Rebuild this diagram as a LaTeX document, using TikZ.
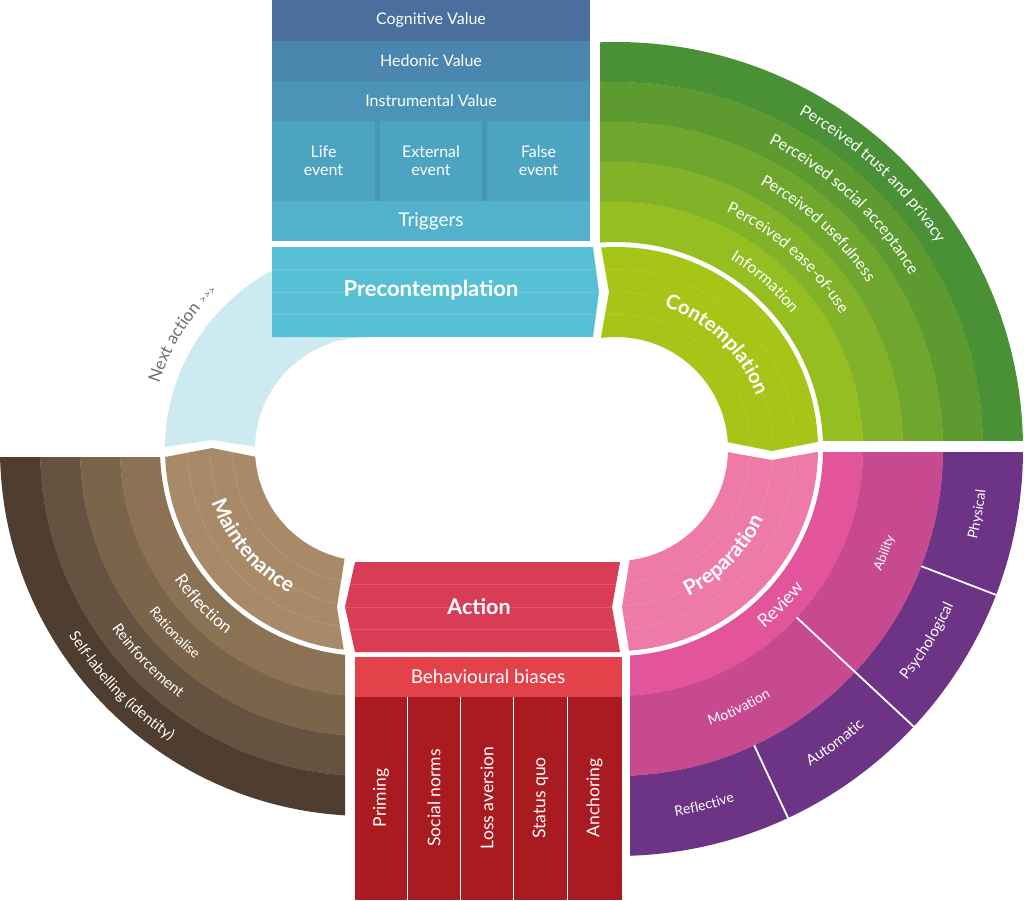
\documentclass[tikz,border=0pt]{standalone}
\usepackage{fontspec}
\setmainfont{Lato}
\usetikzlibrary{decorations.text}
\definecolor{cCogn}{HTML}{4A6F9C}
\definecolor{cHedo}{HTML}{4A86AD}
\definecolor{cInst}{HTML}{4A95B7}
\definecolor{cEvtBg}{HTML}{4696B4}
\definecolor{cEvt}{HTML}{4DA4C2}
\definecolor{cTrig}{HTML}{53B1CB}
\definecolor{cPre}{HTML}{58C0D4}
\definecolor{cNext}{HTML}{CDEAF1}
\definecolor{cCon}{HTML}{A6C516}
\definecolor{cInfo}{HTML}{95BE21}
\definecolor{cEase}{HTML}{82B228}
\definecolor{cUse}{HTML}{6FA62E}
\definecolor{cSoc}{HTML}{5D9B31}
\definecolor{cTrust}{HTML}{4A9034}
\definecolor{cPrep}{HTML}{EE7AA7}
\definecolor{cRev}{HTML}{E2559A}
\definecolor{cAbil}{HTML}{C74A91}
\definecolor{cPurp}{HTML}{6D3485}
\definecolor{cAct}{HTML}{D93D55}
\definecolor{cBiasH}{HTML}{E4424A}
\definecolor{cBias}{HTML}{A91A21}
\definecolor{cMaint}{HTML}{A88A68}
\definecolor{cRefl}{HTML}{8B7254}
\definecolor{cRat}{HTML}{7B6449}
\definecolor{cReinf}{HTML}{655240}
\definecolor{cSelf}{HTML}{4F3D2F}
\definecolor{cGrey}{HTML}{6E6E6E}
\newcommand\fsz[1]{\fontsize{#1}{#1}\selectfont}
\newcommand\curvtxt[6]{\path[decorate,decoration={text along path,text align=center,text color=#6,text={#5}}] ([shift={(#1)}]#2:#4) arc[start angle=#2,end angle=#3,radius=#4];}
\newcommand\annul[4]{\fill[#1,even odd rule] (#2) circle[radius=#3] (#2) circle[radius=#4];}
\newcommand\faintarcs[1]{\foreach \rr in {134.5,157,179.5}{\draw[faint] (#1) circle[radius=\rr];}}
\begin{document}
\begin{tikzpicture}[x=1pt,y=-1pt,
  faint/.style={draw=white,draw opacity=0.14,line width=0.6},
  lbl/.style={text=white,inner sep=0,align=center,font=\fsz{16}},
  splitline/.style={white,line width=1.8}]
\useasboundingbox (0,0) rectangle (1024,900);
\fill[white] (0,0) rectangle (1024,900);
\coordinate (R) at (616,449);
\coordinate (L) at (367,449);
% ---------- green outer bands
\begin{scope}
\clip (600,0) rectangle (1024,440);
\annul{cTrust}{R}{407}{366.8}
\annul{cSoc}{R}{367}{326.8}
\annul{cUse}{R}{327}{286.8}
\annul{cEase}{R}{287}{246.8}
\annul{cInfo}{R}{247}{207}
\end{scope}
% ---------- pink / purple outer bands
\begin{scope}
\clip (630,452) rectangle (1024,900);
\annul{cPurp}{R}{407}{326.8}
\annul{cAbil}{R}{327}{246.8}
\annul{cRev}{R}{247}{207}
\end{scope}
\draw[splitline] ([shift={(R)}]43:247) -- ([shift={(R)}]43:407);
\draw[splitline] ([shift={(R)}]21:327) -- ([shift={(R)}]21:407);
\draw[splitline] ([shift={(R)}]65:327) -- ([shift={(R)}]65:407);
% ---------- brown outer bands
\begin{scope}
\clip (0,457) rectangle (345,900);
\annul{cSelf}{L}{367}{326.8}
\annul{cReinf}{L}{327}{286.8}
\annul{cRat}{L}{287}{246.8}
\annul{cRefl}{L}{247}{207}
\end{scope}
% ---------- next action ring
\begin{scope}
\clip (150,449.2) -- (212,440) -- (270,449) -- (367,449) -- (367,230) -- (150,230) -- cycle;
\annul{cNext}{L}{202}{112}
\faintarcs{L}
\end{scope}
% ---------- contemplation
\begin{scope}
\clip (601,230) -- (900,230) -- (900,437) -- (840,437.4) -- (772,451) -- (700,436.6) -- (601,436.6) -- (601,337) -- (609,292) -- (601,247) -- cycle;
\annul{cCon}{R}{202}{112}
\faintarcs{R}
\end{scope}
% ---------- preparation
\begin{scope}
\clip (630,447) -- (700,447.2) -- (772,460) -- (840,447.9) -- (840,700) -- (630,700) -- (630,656) -- (622,607) -- (630,558) -- cycle;
\annul{cPrep}{R}{202}{112}
\faintarcs{R}
\end{scope}
% ---------- maintenance
\begin{scope}
\clip (150,459.9) -- (212,448) -- (270,459.6) -- (345,459.6) -- (345,556) -- (337,607) -- (345,658) -- (345,700) -- (150,700) -- cycle;
\annul{cMaint}{L}{202}{112}
\faintarcs{L}
\end{scope}
% ---------- precontemplation
\begin{scope}
\clip (272,247) -- (593,247) -- (599,292) -- (593,337) -- (272,337) -- cycle;
\fill[cPre] (270,245) rectangle (600,340);
\foreach \yy in {269.5,292,314.5} \draw[faint] (270,\yy) -- (600,\yy);
\end{scope}
% ---------- action
\begin{scope}
\clip (355,562) -- (620,562) -- (612,607) -- (620,652) -- (355,652) -- (345,607) -- cycle;
\fill[cAct] (340,560) rectangle (625,655);
\foreach \yy in {584.5,607,629.5} \draw[faint] (340,\yy) -- (625,\yy);
\end{scope}
% ---------- trigger block
\fill[cCogn] (272,0) rectangle (590,41);
\fill[cHedo] (272,41) rectangle (590,81);
\fill[cInst] (272,81) rectangle (590,121);
\fill[cEvtBg] (272,121) rectangle (590,201);
\fill[cEvt] (272,121) rectangle (375,201);
\fill[cEvt] (380,121) rectangle (482,201);
\fill[cEvt] (487,121) rectangle (590,201);
\fill[cTrig] (272,201) rectangle (590,241);
% ---------- behavioural biases
\fill[cBiasH] (355,657) rectangle (622,697);
\fill[cBias] (355,697) rectangle (622,900);
\foreach \xx in {407.5,460.5,513.5,567.5} \draw[white,line width=1.2] (\xx,697) -- (\xx,900);
% ---------- straight labels
\node[lbl] (cogn) at (431,20) {Cognitive Value};
\node[lbl] (hedo) at (431,61) {Hedonic Value};
\node[lbl] (inst) at (431,101) {Instrumental Value};
\node[lbl,font=\fontsize{16}{18}\selectfont] (life) at (323.5,161) {Life\\event};
\node[lbl,font=\fontsize{16}{18}\selectfont] (extn) at (431,161) {External\\event};
\node[lbl,font=\fontsize{16}{18}\selectfont] (fals) at (538.5,161) {False\\event};
\node[lbl,font=\fsz{19}] (trig) at (431,221) {Triggers};
\node[lbl,font=\bfseries\fsz{22}] (prec) at (431,290) {Precontemplation};
\node[lbl,font=\bfseries\fsz{21.5}] (actn) at (479,607) {Action};
\node[lbl,font=\fsz{19}] (bias) at (488,677) {Behavioural biases};
\node[lbl,rotate=90,font=\fsz{17.5}] (prim) at (381,798) {Priming};
\node[lbl,rotate=90,font=\fsz{17.5}] (socn) at (434,798) {Social norms};
\node[lbl,rotate=90,font=\fsz{17.5}] (loss) at (487,798) {Loss aversion};
\node[lbl,rotate=90,font=\fsz{17.5}] (stat) at (540.5,798) {Status quo};
\node[lbl,rotate=90,font=\fsz{17.5}] (anch) at (594.5,798) {Anchoring};
% ---------- curved labels, right side (top: clockwise)
\curvtxt{R}{-86}{-6}{150}{|\bfseries\fsz{20}|Contemplation}{white}
\curvtxt{R}{-88.3}{-8.3}{221.4}{|\fsz{16}|Information}{white}
\curvtxt{R}{-88}{-8}{261.4}{|\fsz{16}|Perceived ease-of-use}{white}
\curvtxt{R}{-87.5}{-7.5}{301.4}{|\fsz{16}|Perceived usefulness}{white}
\curvtxt{R}{-87}{-7}{341.4}{|\fsz{16}|Perceived social acceptance}{white}
\curvtxt{R}{-87}{-7}{381.4}{|\fsz{16}|Perceived trust and privacy}{white}
% right side bottom (counter-clockwise)
\curvtxt{R}{84.6}{4.6}{164}{|\bfseries\fsz{21}|Preparation}{white}
\curvtxt{R}{83.4}{3.4}{233}{|\fsz{18}|Review}{white}
\curvtxt{R}{61.2}{-18.8}{292}{|\fsz{13}|Ability}{white}
\curvtxt{R}{104.6}{24.6}{292}{|\fsz{14}|Motivation}{white}
\curvtxt{R}{50.2}{-29.8}{372}{|\fsz{14}|Physical}{white}
\curvtxt{R}{71.7}{-8.3}{372}{|\fsz{15}|Psychological}{white}
\curvtxt{R}{93.3}{13.3}{372}{|\fsz{15}|Automatic}{white}
\curvtxt{R}{116.1}{36.1}{372}{|\fsz{14}|Reflective}{white}
% left side bottom (counter-clockwise)
\curvtxt{L}{179.7}{99.7}{164}{|\bfseries\fsz{21}|Maintenance}{white}
\curvtxt{L}{176.5}{96.5}{233}{|\fsz{17}|Reflection}{white}
\curvtxt{L}{176.3}{96.3}{272}{|\fsz{14}|Rationalise}{white}
\curvtxt{L}{176}{96}{312}{|\fsz{15}|Reinforcement}{white}
\curvtxt{L}{176}{96}{352}{|\fsz{15}|Self-labelling (identity)}{white}
% left side top (clockwise)
\curvtxt{L}{172}{252}{218}{|\fsz{17}|Next action |\fsz{11}|>>>}{cGrey}
\end{tikzpicture}
\end{document}
